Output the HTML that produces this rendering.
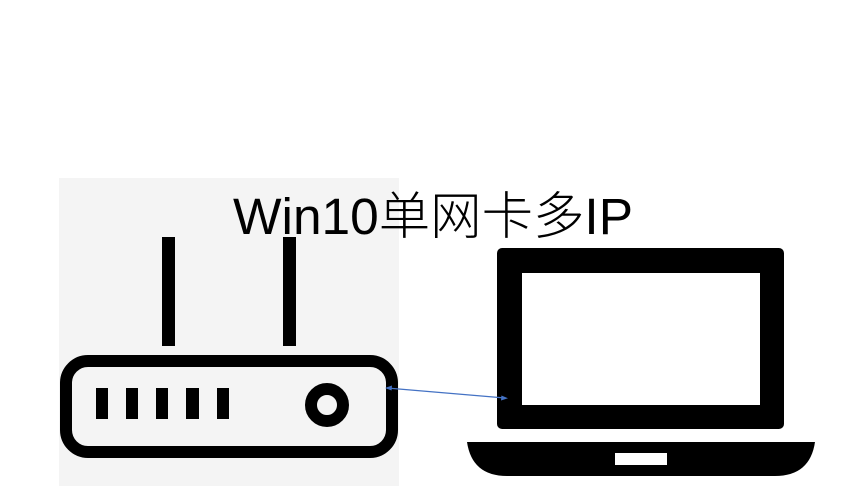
<!DOCTYPE html>
<html><head><meta charset="utf-8"><style>
html,body{margin:0;padding:0;background:#fff;}
svg{display:block;}
</style></head><body>
<svg width="864" height="486" viewBox="0 0 864 486" xmlns="http://www.w3.org/2000/svg">
<rect x="59" y="178" width="340" height="308" fill="#f4f4f4"/>
<!-- router -->
<rect x="162" y="237" width="13" height="109" fill="#000"/>
<rect x="283" y="237" width="13" height="109" fill="#000"/>
<rect x="66" y="361" width="326" height="91" rx="22" fill="#f4f4f4" stroke="#000" stroke-width="12"/>
<rect x="96" y="388" width="12" height="31" fill="#000"/>
<rect x="126" y="388" width="12" height="31" fill="#000"/>
<rect x="156" y="388" width="12" height="31" fill="#000"/>
<rect x="186" y="388" width="13" height="31" fill="#000"/>
<rect x="217" y="388" width="12" height="31" fill="#000"/>
<circle cx="327" cy="405" r="16" fill="none" stroke="#000" stroke-width="12"/>
<!-- laptop -->
<rect x="497" y="248" width="287" height="181" rx="5" fill="#000"/>
<rect x="522" y="273" width="238" height="132" fill="#fff"/>
<path d="M467 442 L815 442 Q810 476 775 476 L507 476 Q472 476 467 442 Z" fill="#000"/>
<rect x="615" y="453" width="52" height="12" fill="#fff"/>
<!-- arrow -->
<line x1="387" y1="388" x2="505" y2="398" stroke="#4472c4" stroke-width="1.3"/>
<path d="M385 388 L392 385.5 L391.6 390.5 Z" fill="#4472c4"/>
<path d="M508 398.2 L501 400.5 L501.4 395.5 Z" fill="#4472c4"/>
<text x="233" y="234" font-family="'Liberation Sans','Noto Sans CJK SC',sans-serif" font-weight="300" font-size="51" textLength="400" lengthAdjust="spacingAndGlyphs" fill="#000">Win10单网卡多IP</text>
</svg>
</body></html>
